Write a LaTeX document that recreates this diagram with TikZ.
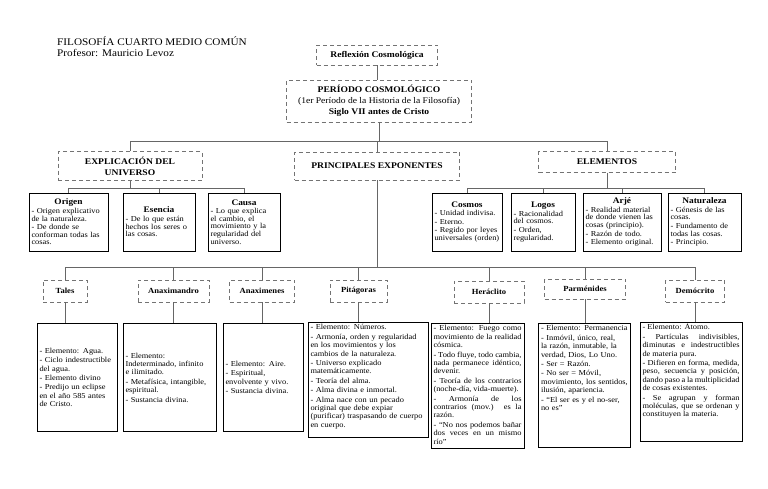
\documentclass[tikz,border=0pt]{standalone}
\usepackage{fontspec}
\setmainfont{Liberation Serif}[FakeStretch=1.1]
\usetikzlibrary{calc}
\hyphenpenalty=10000
\exhyphenpenalty=10000

\tikzset{
  dashbox/.style={draw=black!55, line width=0.8pt, dash pattern=on 4pt off 3pt,
    align=center, inner sep=1pt, font=\fontsize{8.7}{11}\selectfont\bfseries},
  namebox/.style={dashbox, minimum height=22, font=\fontsize{7.8}{9}\selectfont\bfseries},
  conceptbox/.style={draw, line width=0.9pt, inner sep=2.5pt, align=left,
    minimum height=58, font=\fontsize{7.6}{7.8}\selectfont,
    execute at begin node={\setlength{\parskip}{0.5pt}}},
  descbox/.style={draw, line width=0.9pt, inner sep=2.5pt, align=left, anchor=north,
    font=\fontsize{7.6}{8.4}\selectfont,
    execute at begin node={\setlength{\parskip}{1pt}}},
  topdesc/.style={text height=5pt, text depth=#1},
  link/.style={draw=black!60, line width=0.8pt},
}
\newcommand{\conceptname}[1]{{\centering\fontsize{8.5}{9.5}\selectfont\bfseries #1\par}}

\begin{document}
\begin{tikzpicture}[x=1pt, y=-1pt]
      \useasboundingbox (0,0) rectangle (768,488);

      % heading
      \node [anchor=north west, align=left, inner sep=0pt,
        font=\fontsize{10.2}{11}\selectfont, name=heading] at (57,37)
        {FILOSOFÍA CUARTO MEDIO COMÚN\\Profesor: Mauricio Levoz};

      % period
      \node [dashbox, minimum width=121, minimum height=20, name=reflexion] at
      (377,55) {Reflexión Cosmológica};
      \node [dashbox, minimum width=185, minimum height=42, name=periodo] at
      (379,101) {PERÍODO COSMOLÓGICO\\{\mdseries (1er Período de la Historia de la Filosofía)}\\Siglo VII antes de Cristo};

      % three branches
      \node [dashbox, minimum width=144, minimum height=29, name=explicacion] at
      (130,166) {EXPLICACIÓN DEL\\UNIVERSO};
      \node [dashbox, minimum width=165, minimum height=28, name=exponentes] at
      (377,166) {PRINCIPALES EXPONENTES};
      \node [dashbox, minimum width=137, minimum height=21, name=elementos] at
      (607,162) {ELEMENTOS};

      % explicacion del universo
      \node [conceptbox, text width=74, name=origen] at (68.5,222)
        {\conceptname{Origen}- Origen explicativo de la naturaleza.\par - De donde se conforman todas las cosas.};
      \node [conceptbox, text width=67, name=esencia] at (159,222)
        {\conceptname{Esencia}- De lo que están hechos los seres o las cosas.};
      \node [conceptbox, text width=67, name=causa] at (244,222)
        {\conceptname{Causa}- Lo que explica el cambio, el movimiento y la regularidad del universo.};

      % elementos
      \node [conceptbox, text width=65, name=cosmos] at (467,222)
        {\conceptname{Cosmos}- Unidad indivisa.\par - Eterno.\par - Regido por leyes universales (orden)};
      \node [conceptbox, text width=59, name=logos] at (543,222)
        {\conceptname{Logos}- Racionalidad del cosmos.\par - Orden, regularidad.};
      \node [conceptbox, text width=73, name=arje] at (622,222)
        {\conceptname{Arjé}- Realidad material de donde vienen las cosas (principio).\par - Razón de todo.\par - Elemento original.};
      \node [conceptbox, text width=68, name=naturaleza] at (704.5,222)
        {\conceptname{Naturaleza}- Génesis de las cosas.\par - Fundamento de todas las cosas.\par - Principio.};

      % philosophers
      \node [namebox, minimum width=44, name=tales] at (65,291) {Tales};
      \node [namebox, minimum width=71, name=anaximandro] at (173.5,291) {Anaximandro};
      \node [namebox, minimum width=65, name=anaximenes] at (262,291) {Anaximenes};
      \node [namebox, minimum width=57, name=pitagoras] at (358.5,291) {Pitágoras};
      \node [namebox, minimum width=70, name=heraclito] at (489,292) {Heráclito};
      \node [namebox, minimum width=81, minimum height=20, name=parmenides] at (585,289) {Parménides};
      \node [namebox, minimum width=59, name=democrito] at (695,291) {Demócrito};

      % what each one says
      \node [descbox, text width=75, minimum height=108, name=tales_d] at (77,323)
        {- Elemento: Agua.\par - Ciclo indestructible del agua.\par - Elemento divino\par
         - Predijo un eclipse en el año 585 antes de Cristo.};
      \node [descbox, text width=88, minimum height=108, name=anaximandro_d] at (169.5,323)
        {- Elemento: Indeterminado, infinito e ilimitado.\par - Metafísica, intangible, espiritual.\par
         - Sustancia divina.};
      \node [descbox, text width=75, minimum height=108, name=anaximenes_d] at (263,323)
        {- Elemento: Aire.\par - Espiritual, envolvente y vivo.\par - Sustancia divina.};
      \node [descbox, topdesc=105, text width=115, name=pitagoras_d] at (368,322)
        {- Elemento: Números.\par - Armonía, orden y regularidad en los movimientos y los cambios de la naturaleza.\par
         - Universo explicado matemáticamente.\par - Teoría del alma.\par - Alma divina e inmortal.\par
         - Alma nace con un pecado original que debe expiar (purificar) traspasando de cuerpo en cuerpo.};
      \node [descbox, topdesc=115, text width=88, align=justify, name=heraclito_d] at (477.5,323)
        {- Elemento: Fuego como movimiento de la realidad cósmica.\par
         - Todo fluye, todo cambia, nada permanece idéntico, devenir.\par
         - Teoría de los contrarios (noche-día, vida-muerte).\par
         - Armonía de los contrarios (mov.) es la razón.\par
         - ``No nos podemos bañar dos veces en un mismo río''};
      \node [descbox, topdesc=114, text width=87, name=parmenides_d] at (584.5,323)
        {- Elemento: Permanencia\par - Inmóvil, único, real, la razón, inmutable, la verdad, Dios, Lo Uno.\par
         - Ser = Razón.\par - No ser = Móvil, movimiento, los sentidos, ilusión, apariencia.\par
         - ``El ser es y el no-ser, no es''};
      \node [descbox, topdesc=109, text width=97, align=justify, name=democrito_d] at (691,322)
        {- Elemento: Átomo.\par - Partículas indivisibles, diminutas e indestructibles de materia pura.\par
         - Difieren en forma, medida, peso, secuencia y posición, dando paso a la multiplicidad de cosas existentes.\par
         - Se agrupan y forman moléculas, que se ordenan y constituyen la materia.};

      % connectors
      \draw [link] (reflexion.south) -- (reflexion.south |- periodo.north);
      \draw [link] (periodo.south) -- ++(0,19) coordinate (hub_top);
      \draw [link] (hub_top) -| (explicacion.north);
      \draw [link] (hub_top) -| (exponentes.north);
      \draw [link] (hub_top) -| (elementos.north);

      \draw [link] (explicacion.south) -- ++(0,7) coordinate (hub_left);
      \draw [link] (hub_left) -| (origen.north);
      \draw [link] (hub_left) -| (esencia.north);
      \draw [link] (hub_left) -| (causa.north);

      \draw [link] (elementos.south) -- ++(0,15.5) coordinate (hub_right);
      \draw [link] (hub_right) -| (cosmos.north);
      \draw [link] (hub_right) -| (logos.north);
      \draw [link] (hub_right) -| (arje.north);
      \draw [link] (hub_right) -| (naturaleza.north);

      \draw [link] (exponentes.south) -- ++(0,87) coordinate (hub_mid);
      \draw [link] (hub_mid) -| (tales.north);
      \draw [link] (hub_mid) -| (anaximandro.north);
      \draw [link] (hub_mid) -| (anaximenes.north);
      \draw [link] (hub_mid) -| (pitagoras.north);
      \draw [link] (hub_mid) -| (heraclito.north);
      \draw [link] (hub_mid) -| (parmenides.north);
      \draw [link] (hub_mid) -| (democrito.north);

      \draw [link] (tales.south) -- (tales.south |- tales_d.north);
      \draw [link] (anaximandro.south) -- (anaximandro.south |- anaximandro_d.north);
      \draw [link] (anaximenes.south) -- (anaximenes.south |- anaximenes_d.north);
      \draw [link] (pitagoras.south) -- (pitagoras.south |- pitagoras_d.north);
      \draw [link] (heraclito.south) -- (heraclito.south |- heraclito_d.north);
      \draw [link] (parmenides.south) -- (parmenides.south |- parmenides_d.north);
      \draw [link] (democrito.south) -- (democrito.south |- democrito_d.north);
\end{tikzpicture}
\end{document}
